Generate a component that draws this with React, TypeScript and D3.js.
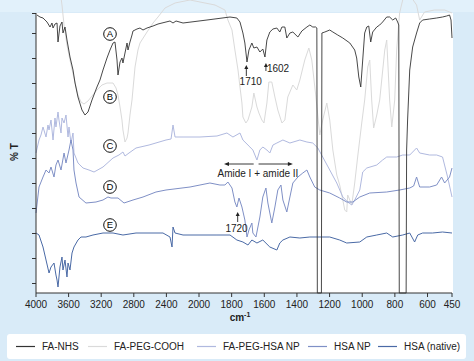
import React from "react";
import * as d3 from "d3";

type Pt = [number, number];

// Wavenumber (cm-1) vs offset %T (arbitrary stacked units)
const faNhs: Pt[] = [
  [3988,278],[3951,276],[3914,275],[3865,271],[3828,266],[3804,270],[3791,265],[3767,269],[3742,270],[3730,251],
  [3706,267],[3681,271],[3669,260],[3644,266],[3620,253],[3583,236],[3546,223],[3521,210],[3485,196],[3436,183],
  [3399,178],[3362,181],[3313,193],[3252,206],[3215,213],[3178,223],[3129,235],[3092,243],[3055,250],[3031,251],
  [3006,233],[2994,218],[2969,231],[2945,235],[2933,230],[2908,240],[2883,250],[2871,243],[2847,251],[2822,258],
  [2810,262],[2761,264],[2724,265],[2687,263],[2638,265],[2564,267],[2503,269],[2356,272],[2319,270],[2282,272],
  [2196,270],[1951,273],[1810,276],[1768,275],[1749,271],[1731,260],[1719,250],[1706,231],[1694,243],[1676,250],
  [1664,245],[1645,246],[1627,241],[1609,244],[1596,236],[1584,253],[1566,261],[1547,264],[1523,265],[1505,261],
  [1492,266],[1474,266],[1462,255],[1443,260],[1425,261],[1394,256],[1370,262],[1339,266],[1321,268],[1303,266],
  [1285,266],[1278,265],[1275,0],[1250,0],[1247,260],[1229,261],[1199,263],[1180,261],[1150,258],[1119,255],
  [1076,250],[1046,243],[1034,235],[1021,216],[1009,206],[997,233],[985,260],[972,266],[960,267],[948,251],
  [936,261],[911,266],[893,268],[875,271],[850,276],[832,276],[813,273],[795,275],[783,271],[776,268],[773,0],
  [731,0],[728,143],[722,173],[709,223],[691,246],[667,260],[648,270],[630,273],[587,274],[544,275],[508,276],
  [483,277],[465,278],[456,273],[450,255],
];

const faPegCooh: Pt[] = [
  [3706,303],[3681,288],[3656,268],[3620,248],[3583,233],[3534,215],[3485,198],[3448,191],[3411,189],[3362,192],
  [3313,197],[3252,203],[3190,208],[3129,210],[3055,210],[3018,205],[2994,198],[2969,186],[2945,173],[2933,163],
  [2908,151],[2883,155],[2871,160],[2847,178],[2822,193],[2785,226],[2749,243],[2724,250],[2638,261],[2564,270],
  [2503,276],[2417,285],[2294,290],[2110,293],[1994,291],[1902,288],[1841,283],[1823,273],[1798,263],[1780,243],
  [1761,223],[1749,206],[1737,190],[1731,176],[1713,170],[1700,173],[1676,186],[1664,200],[1645,186],[1633,180],
  [1615,173],[1602,170],[1584,190],[1572,211],[1554,211],[1535,196],[1517,183],[1492,170],[1474,173],[1456,196],
  [1425,208],[1401,203],[1382,213],[1352,233],[1327,245],[1309,233],[1285,198],[1260,158],[1242,173],[1217,190],
  [1199,173],[1180,143],[1156,118],[1138,108],[1119,93],[1107,83],[1095,81],[1089,98],[1076,93],[1064,88],
  [1046,110],[1028,136],[1003,170],[985,193],[966,226],[954,233],[942,193],[930,165],[911,178],[893,193],
  [862,243],[850,253],[832,193],[819,166],[801,193],[789,243],[771,280],[752,293],[709,298],[667,288],
  [648,273],[618,281],[557,283],[495,283],[465,281],[450,280],
];

const faPegHsaNp: Pt[] = [
  [4000,140],[3963,153],[3939,158],[3914,166],[3877,156],[3853,168],[3840,163],[3816,173],[3791,153],[3767,175],
  [3755,166],[3730,181],[3718,173],[3693,160],[3681,175],[3656,170],[3632,178],[3607,156],[3595,166],[3571,150],
  [3546,160],[3534,140],[3509,135],[3485,130],[3423,125],[3350,123],[3288,121],[3178,126],[3055,135],[2982,138],
  [2933,141],[2908,137],[2859,140],[2773,145],[2613,148],[2405,153],[2343,154],[2319,168],[2294,156],[2196,156],
  [1994,156],[1890,157],[1829,160],[1792,156],[1749,160],[1731,153],[1688,146],[1670,143],[1645,133],[1627,143],
  [1609,146],[1584,143],[1566,140],[1547,148],[1523,150],[1486,153],[1443,150],[1382,153],[1339,151],[1303,150],
  [1272,145],[1242,136],[1199,123],[1156,110],[1119,96],[1089,91],[1064,88],[1046,93],[1015,103],[997,121],
  [972,125],[911,128],[875,133],[850,136],[789,136],[752,138],[709,138],[667,145],[648,140],[587,138],
  [544,138],[508,136],[477,116],[450,96],
];

const hsaNp: Pt[] = [
  [4000,80],[3963,106],[3914,116],[3877,123],[3840,120],[3816,126],[3779,116],[3755,128],[3730,133],[3693,123],
  [3656,140],[3632,130],[3595,143],[3571,153],[3546,143],[3534,123],[3509,110],[3472,96],[3387,90],[3264,91],
  [3178,93],[3117,96],[3080,95],[2994,95],[2920,90],[2810,93],[2687,96],[2528,101],[2405,103],[2110,106],
  [1994,108],[1933,110],[1872,108],[1841,108],[1823,111],[1798,105],[1780,91],[1768,86],[1755,95],[1737,86],
  [1719,73],[1706,56],[1694,63],[1676,70],[1670,60],[1651,56],[1627,76],[1609,96],[1590,105],[1578,90],
  [1554,70],[1535,86],[1517,103],[1498,108],[1486,93],[1462,81],[1443,96],[1425,110],[1394,116],[1364,120],
  [1339,123],[1321,116],[1291,106],[1260,103],[1199,100],[1138,95],[1095,91],[1058,91],[1015,96],[954,100],
  [850,101],[771,103],[709,105],[685,107],[667,116],[648,106],[587,106],[544,108],[514,116],[495,110],
  [465,116],[450,125],
];

const hsaNative: Pt[] = [
  [4000,60],[3963,58],[3914,46],[3877,33],[3840,20],[3816,26],[3779,30],[3755,18],[3742,13],[3730,6],
  [3706,26],[3681,36],[3669,23],[3644,33],[3620,16],[3607,30],[3583,23],[3558,40],[3534,46],[3485,53],
  [3448,56],[3387,56],[3301,58],[3178,60],[3055,60],[2933,58],[2773,60],[2442,60],[2356,56],[2331,46],
  [2319,66],[2294,60],[2196,58],[1890,58],[1810,58],[1768,53],[1731,51],[1700,48],[1676,53],[1645,50],
  [1609,53],[1566,46],[1523,43],[1505,50],[1486,53],[1443,56],[1382,55],[1321,56],[1199,56],[1138,53],
  [1095,50],[1015,51],[972,56],[911,58],[850,60],[813,56],[752,58],[709,60],[679,51],[660,58],
  [630,60],[569,60],[508,61],[450,60],
];

const seriesNames = ["FA-NHS", "FA-PEG-COOH", "FA-PEG-HSA NP", "HSA NP", "HSA (native)"];
const seriesColors = ["#333333", "#dadada", "#b0b9df", "#7f90c6", "#4a6aa6"];
const seriesData = [faNhs, faPegCooh, faPegHsaNp, hsaNp, hsaNative];

const xTicks = [4000, 3600, 3200, 2800, 2400, 2000, 1800, 1600, 1400, 1200, 1000, 800, 600, 450];
const yTicks = [9.5, 34.5, 59.5, 84.5, 109.5, 134.5, 159.5, 184.5, 209.5, 234.5, 259.5, 279.5];

const traceLabels = ["A", "B", "C", "D", "E"];
const traceLabelX = 3092;
const traceLabelY = [259, 196, 147, 106, 68];

export default function App() {
  const W = 474, H = 361;
  const L = 36, R = 453, T = 13, B = 293;
  const x = d3.scaleLinear().domain([4000, 2000, 450]).range([36, 199, 452]);
  const y = d3.scaleLinear().domain([0, 280]).range([B, T]);
  const line = d3.line<Pt>().x((d) => x(d[0])).y((d) => y(d[1]));
  const font = "'Liberation Sans', Arial, Helvetica, sans-serif";
  const drawOrder = [1, 2, 3, 4, 0];

  const legendLayout = [16, 88, 197, 308, 378];

  const arrowUp = (wx: number, vTip: number, vTail: number, key: string) => {
    const px = x(wx), ty = y(vTip), by = y(vTail);
    return (
      <g key={key}>
        <line x1={px} x2={px} y1={ty + 2} y2={by} stroke="#222" strokeWidth={0.9} />
        <path d={`M${px - 2},${ty + 4} L${px},${ty} L${px + 2},${ty + 4} Z`} fill="#222" />
      </g>
    );
  };

  const amY = y(129);
  const amL = x(1847), amR = x(1425), amC1 = x(1665), amC2 = x(1635);

  return (
    <svg width={W} height={H} style={{ position: "absolute", left: 0, top: 0 }} fontFamily={font}>
      <rect x={0} y={0} width={W} height={H} fill="#d9ebf8" />
      <rect x={0} y={0} width={W} height={12} fill="#e2f1fb" />
      <rect x={L} y={T} width={R - L} height={B - T} fill="#ffffff" />

      {drawOrder.map((i) => (
        <path key={i} d={line(seriesData[i]) || ""} fill="none" stroke={seriesColors[i]} strokeWidth={i === 0 ? 0.9 : 1} strokeLinejoin="round" />
      ))}

      {traceLabels.map((t, i) => (
        <g key={t}>
          <circle cx={x(traceLabelX)} cy={y(traceLabelY[i])} r={6.3} fill="#fff" stroke="#111" strokeWidth={1} />
          <text x={x(traceLabelX)} y={y(traceLabelY[i]) + 3.4} textAnchor="middle" fontSize={9.5} fill="#000">{t}</text>
        </g>
      ))}

      {arrowUp(1710, 228, 217, "a1710")}
      <text x={x(1683)} y={y(208)} textAnchor="middle" fontSize={10} fill="#222">1710</text>
      {arrowUp(1590, 230, 222, "a1602")}
      <text x={x(1584)} y={y(221)} fontSize={10} fill="#222">1602</text>
      {arrowUp(1763, 81, 71, "a1720")}
      <text x={x(1770)} y={y(61)} textAnchor="middle" fontSize={10} fill="#222">1720</text>

      <line x1={amL + 3} x2={amC1} y1={amY} y2={amY} stroke="#222" strokeWidth={0.9} />
      <path d={`M${amL},${amY} L${amL + 5},${amY - 2} L${amL + 5},${amY + 2} Z`} fill="#222" />
      <line x1={amC2} x2={amR - 3} y1={amY} y2={amY} stroke="#222" strokeWidth={0.9} />
      <path d={`M${amR},${amY} L${amR - 5},${amY - 2} L${amR - 5},${amY + 2} Z`} fill="#222" />
      <text x={x(1639)} y={y(116)} textAnchor="middle" fontSize={10} fill="#222">Amide I + amide II</text>

      {/* axes */}
      <line x1={L} x2={L} y1={T} y2={B} stroke="#333" strokeWidth={1} />
      <line x1={L} x2={x(450)} y1={B} y2={B} stroke="#333" strokeWidth={1} />
      {yTicks.map((v) => (
        <line key={v} x1={L - 4} x2={L} y1={y(v)} y2={y(v)} stroke="#333" strokeWidth={1} />
      ))}
      {xTicks.map((v) => (
        <g key={v}>
          <line x1={x(v)} x2={x(v)} y1={B} y2={B + 4} stroke="#333" strokeWidth={1} />
          <text x={x(v)} y={B + 15} textAnchor="middle" fontSize={10} fill="#222">{v}</text>
        </g>
      ))}
      <text x={240} y={321} textAnchor="middle" fontSize={10} fontWeight="bold" fill="#222">
        cm<tspan dy={-4} fontSize={7}>-1</tspan>
      </text>
      <text transform={`translate(18,152) rotate(-90)`} textAnchor="middle" fontSize={10} fontWeight="bold" fill="#222">% T</text>

      {/* legend */}
      <rect x={7} y={334} width={459} height={25} rx={3} fill="#ffffff" />
      {seriesNames.map((n, i) => (
        <g key={n}>
          <line x1={legendLayout[i]} x2={legendLayout[i] + 19} y1={346.5} y2={346.5} stroke={seriesColors[i]} strokeWidth={1.2} />
          <text x={legendLayout[i] + 26} y={350} fontSize={10} fill="#222">{n}</text>
        </g>
      ))}
    </svg>
  );
}
